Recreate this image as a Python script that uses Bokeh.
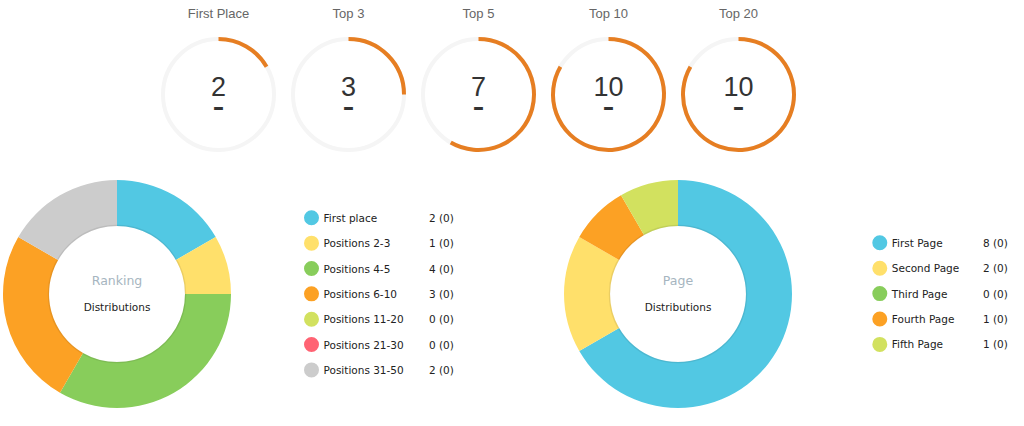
import math
from bokeh.plotting import figure
from bokeh.models import Range1d
from bokeh.core.properties import value
from bokeh.embed import file_html
from bokeh.resources import INLINE

# ---------------- data ----------------
gauge_titles = ["First Place", "Top 3", "Top 5", "Top 10", "Top 20"]
gauge_values = [2, 3, 7, 10, 10]

ranking_labels = ["First place", "Positions 2-3", "Positions 4-5", "Positions 6-10",
                  "Positions 11-20", "Positions 21-30", "Positions 31-50"]
ranking_values = [2, 1, 4, 3, 0, 0, 2]
ranking_changes = [0, 0, 0, 0, 0, 0, 0]
ranking_colors = ["#52c8e3", "#ffe06b", "#88cd5b", "#fca124", "#d2e15f", "#ff6373", "#cccccc"]

page_labels = ["First Page", "Second Page", "Third Page", "Fourth Page", "Fifth Page"]
page_values = [8, 2, 0, 1, 1]
page_changes = [0, 0, 0, 0, 0]
page_colors = ["#52c8e3", "#ffe06b", "#88cd5b", "#fca124", "#d2e15f"]

gauge_max = sum(page_values)

# ---------------- layout (reference pixel coords) ----------------
W, H = 1008, 410
X0, Y0 = 0, 0          # reference pixel shown at figure's top-left
def Y(yref):
    return (H + Y0) - yref

p = figure(width=W, height=H, output_backend="svg", toolbar_location=None,
           x_axis_type=None, y_axis_type=None,
           x_range=Range1d(X0, X0 + W), y_range=Range1d(0, H),
           min_border=0, outline_line_color=None,
           background_fill_color="white", border_fill_color="white")
p.grid.visible = False

SANS = value("Liberation Sans")
VERD = value("DejaVu Sans")

# ---------------- gauges ----------------
g_x0, g_dx, g_y, g_r = 218, 130, 94, 55.5
gx = [g_x0 + i * g_dx for i in range(len(gauge_values))]
gy = [Y(g_y)] * len(gauge_values)
p.circle(x=gx, y=gy, radius=g_r, fill_color=None, line_color="#f5f5f5", line_width=4)
start = [math.pi / 2] * len(gauge_values)
end = [math.pi / 2 - 2 * math.pi * v / gauge_max for v in gauge_values]
p.arc(x=gx, y=gy, radius=g_r, start_angle=start, end_angle=end, direction="clock",
      line_color="#e67e22", line_width=4)
p.text(x=gx, y=[Y(13)] * len(gx), text=gauge_titles, text_font=SANS,
       text_font_size=value("13px"), text_color="#666666",
       text_align="center", text_baseline="middle")
p.text(x=gx, y=[Y(85.5)] * len(gx), text=[str(v) for v in gauge_values], text_font=SANS,
       text_font_size=value("27px"), text_color="#333333",
       text_align="center", text_baseline="middle")
p.text(x=gx, y=[Y(104)] * len(gx), text=["-"] * len(gx), text_font=SANS,
       text_font_size=value("36px"), text_color="#333333",
       text_align="center", text_baseline="middle")

# ---------------- donuts ----------------
def donut(cx, cy, labels, vals, colors, changes, title, lx, vx, ly0, ldy):
    total = sum(vals)
    cum = 0
    xs, ys, s, e, c = [], [], [], [], []
    for v, col in zip(vals, colors):
        if v > 0:
            xs.append(cx); ys.append(Y(cy))
            s.append(math.pi / 2 - 2 * math.pi * cum / total)
            e.append(math.pi / 2 - 2 * math.pi * (cum + v) / total)
            c.append(col)
        cum += v
    p.annular_wedge(x=xs, y=ys, inner_radius=68, outer_radius=114, start_angle=s,
                    end_angle=e, direction="clock", fill_color=c, line_color=None)
    # faint inner shadow
    p.circle(x=[cx], y=[Y(cy)], radius=68.5, fill_color=None,
             line_color="#000000", line_alpha=0.08, line_width=1.5)
    p.text(x=[cx], y=[Y(280)], text=[title], text_font=VERD, text_font_size=value("12.5px"),
           text_color="#a6b5c0", text_align="center", text_baseline="middle")
    p.text(x=[cx], y=[Y(306)], text=["Distributions"], text_font=VERD,
           text_font_size=value("10.5px"), text_color="#222222",
           text_align="center", text_baseline="middle")
    n = len(labels)
    rows = [Y(ly0 + i * ldy) for i in range(n)]
    p.circle(x=[lx] * n, y=rows, radius=7.5, fill_color=colors, line_color=None)
    p.text(x=[lx + 12] * n, y=rows, text=labels, text_font=VERD,
           text_font_size=value("10.5px"), text_color="#222222",
           text_align="left", text_baseline="middle")
    p.text(x=[vx] * n, y=rows, text=[f"{v} ({ch})" for v, ch in zip(vals, changes)],
           text_font=VERD, text_font_size=value("10.5px"), text_color="#222222",
           text_align="left", text_baseline="middle")

donut(116.5, 293.5, ranking_labels, ranking_values, ranking_colors, ranking_changes,
      "Ranking", 311, 428.5, 217.3, 25.35)
donut(677.5, 293.5, page_labels, page_values, page_colors, page_changes,
      "Page", 879.3, 982.5, 242.3, 25.4)

open("out.html", "w").write(file_html(p, INLINE))
